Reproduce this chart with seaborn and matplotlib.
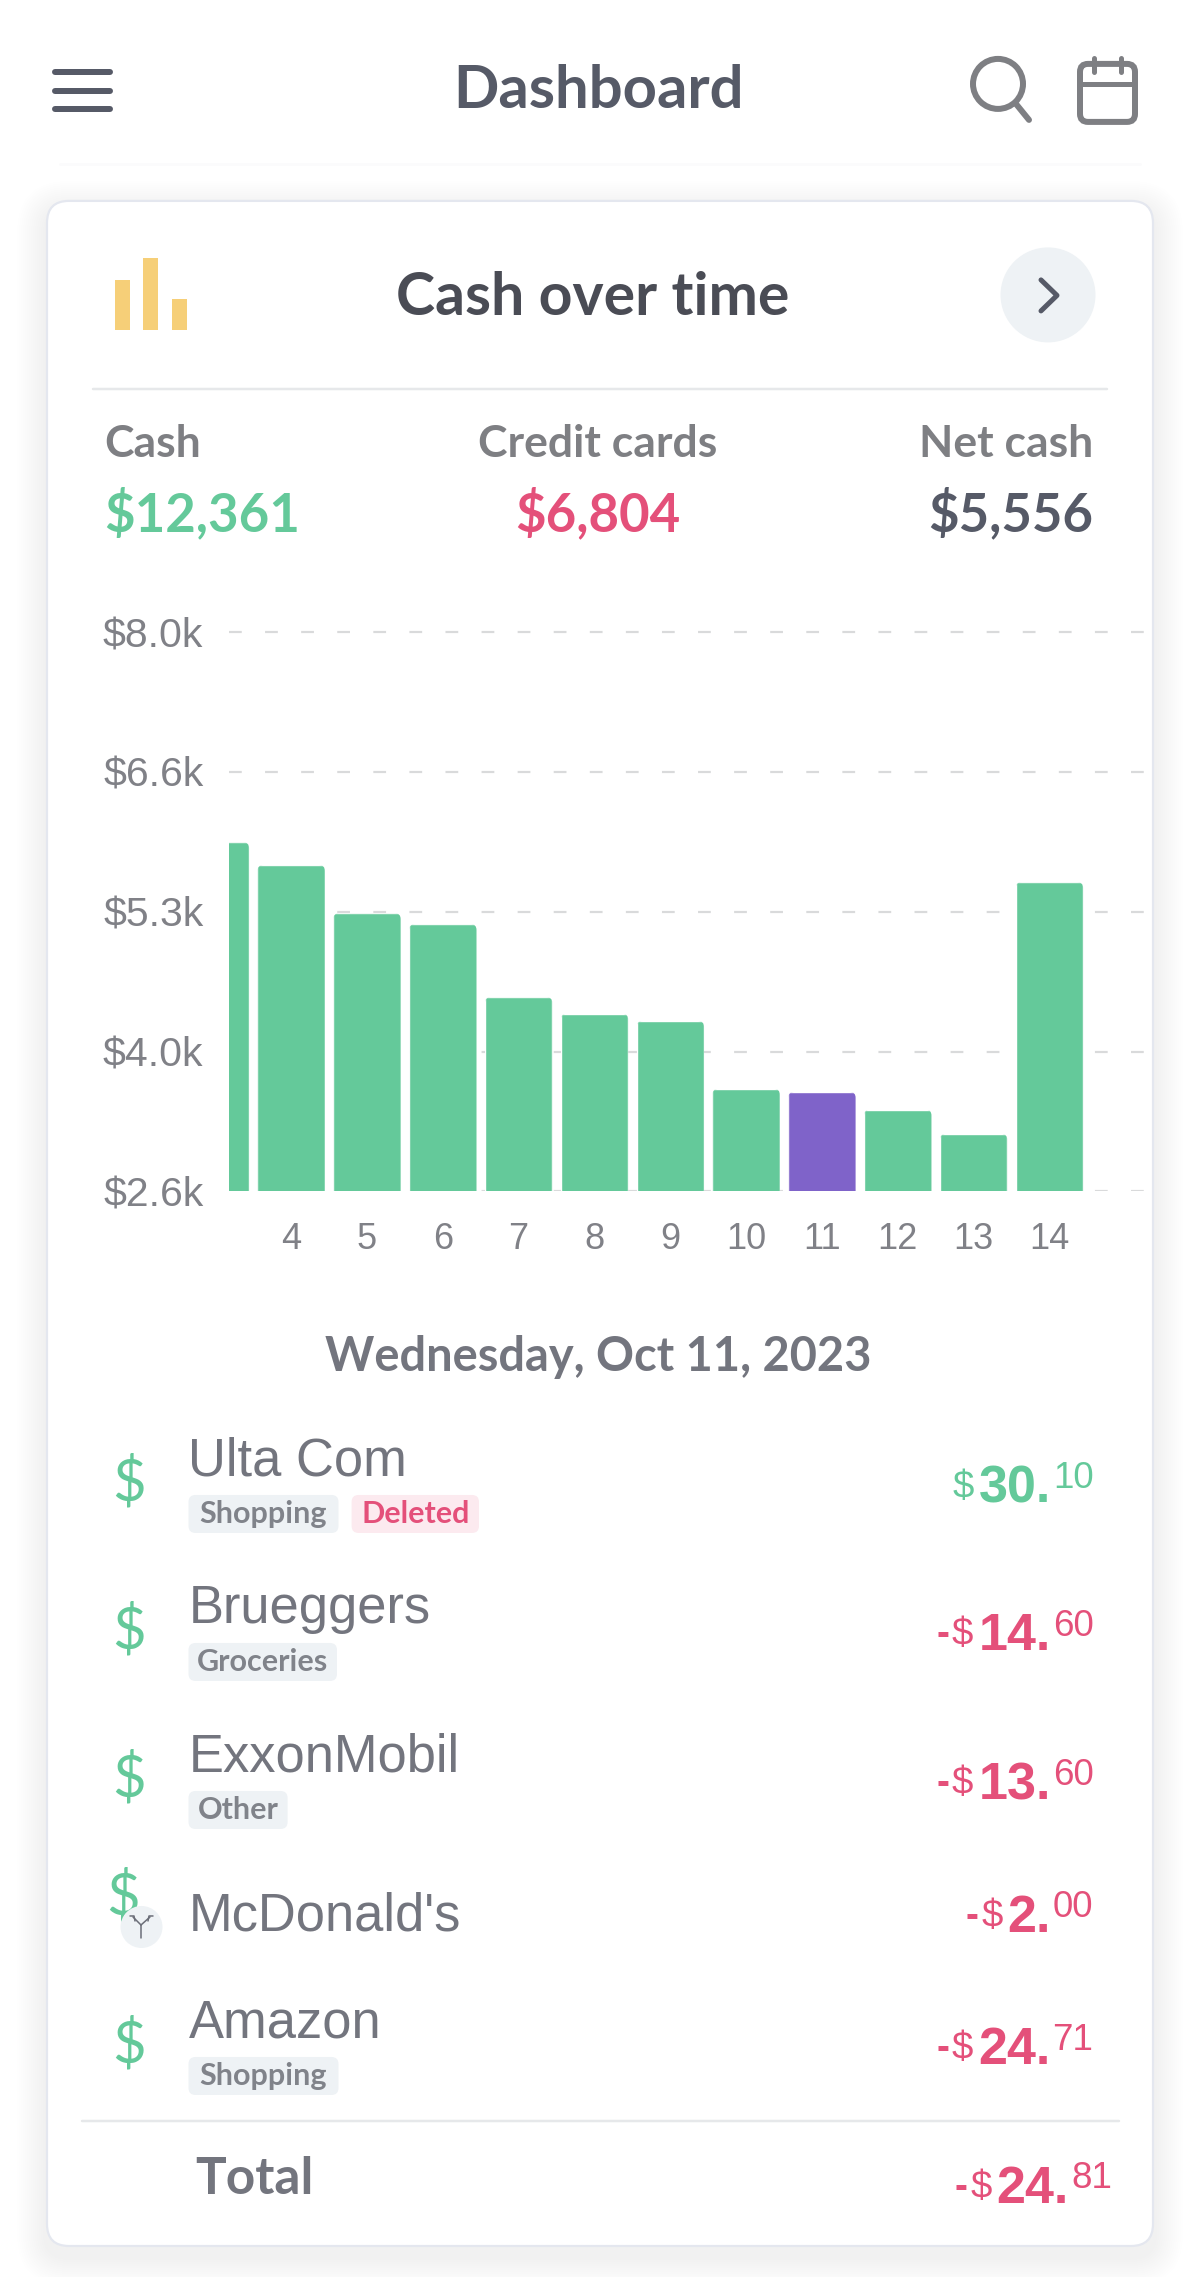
import matplotlib
matplotlib.use('Agg')
import matplotlib.pyplot as plt
import seaborn as sns
from matplotlib.patches import FancyBboxPatch, Circle, Rectangle

# Chart values (thousands of dollars)
days = ['3', '4', '5', '6', '7', '8', '9', '10', '11', '12', '13', '14']
cash_k = [5.97, 5.75, 5.285, 5.18, 4.475, 4.315, 4.245, 3.59, 3.56, 3.39, 3.155, 5.585]
selected_day = '11'
y_ticks = [2.6, 3.95, 5.3, 6.65, 8.0]
y_tick_labels = ['$2.6k', '$4.0k', '$5.3k', '$6.6k', '$8.0k']

# Summary row
summary_labels = ['Cash', 'Credit cards', 'Net cash']
summary_values = ['$12,361', '$6,804', '$5,556']

# Transactions
merchants = ['Ulta Com', 'Brueggers', 'ExxonMobil', "McDonald's", 'Amazon']
tags = [['Shopping', 'Deleted'], ['Groceries'], ['Other'], [], ['Shopping']]
amounts = [30.10, -14.60, -13.60, -2.00, -24.71]
total = -24.81

GREEN = '#64c99a'
PURPLE = '#7f63c9'
RED = '#e4507a'
DARK = '#565a67'
GREY = '#73757e'
ICON = '#7e7f83'
TICK = '#808187'
PILL = '#eef2f5'
LINE = '#e6e8ea'
HEAD = 'Lato'
BODY = 'Liberation Sans'

sns.set_theme(style='white')
fig = plt.figure(figsize=(12, 22.771), dpi=100, facecolor='white')

# Whole page in pixel coordinates
bg = fig.add_axes([0, 0, 1, 1])
bg.set_xlim(0, 1200)
bg.set_ylim(2277, 0)
bg.axis('off')


def pt(px):
    return px * 0.72


def rbox(x0, y0, x1, y1, r, **kw):
    bg.add_patch(FancyBboxPatch((x0, y0), x1 - x0, y1 - y0,
                                boxstyle=f'round,pad=0,rounding_size={r}', **kw))


def stroke(xs, ys, color, width):
    bg.plot(xs, ys, color=color, lw=pt(width), solid_capstyle='round',
            solid_joinstyle='round')


def draw_amount(value, right, base):
    color = GREEN if value >= 0 else RED
    whole, cents = f'{abs(value):.2f}'.split('.')
    r = fig.canvas.get_renderer()
    t = bg.text(right, base - 14.5, cents, ha='right', va='baseline', color=color,
                family=BODY, fontsize=26.5)
    x = t.get_window_extent(r).x0 - 2
    t = bg.text(x, base, whole + '.', ha='right', va='baseline', color=color,
                family=BODY, fontsize=37.5, weight='bold')
    x = t.get_window_extent(r).x0 - 5
    t = bg.text(x, base - 5, '$', ha='right', va='baseline', color=color,
                family=BODY, fontsize=27.5)
    if value < 0:
        x = t.get_window_extent(r).x0 - 3
        bg.text(x, base - 5, '-', ha='right', va='baseline', color=color,
                family=BODY, fontsize=28, weight='bold')


# Soft shadow, then the card
for i in range(14):
    s = 30 - i * 2
    rbox(47 - s, 201 - s + 10, 1153 + s, 2246 + s + 10, 22 + s,
         facecolor='#7c88a8', edgecolor='none', alpha=0.005)
rbox(47, 201, 1153, 2246, 22, facecolor='white', edgecolor='#e4e7ef', lw=pt(2.2))
bg.plot([60, 1140], [164, 164], color='#fbfbfc', lw=pt(3))

# Top bar
for y in [72.5, 90.7, 109]:
    stroke([55, 110], [y, y], DARK, 6)
bg.text(598, 108, 'Dashboard', ha='center', va='baseline', color=DARK,
        family=HEAD, weight='bold', fontsize=43)
bg.add_patch(Circle((998, 84), 25, facecolor='none', edgecolor=ICON, lw=pt(6)))
stroke([1016, 1029], [104, 120], ICON, 6)
rbox(1080, 64, 1135, 122, 8, facecolor='none', edgecolor=ICON, lw=pt(6))
stroke([1080, 1135], [84, 84], ICON, 5)
stroke([1094, 1094], [58, 72], ICON, 5)
stroke([1121, 1121], [58, 72], ICON, 5)

# Card header
for x0, x1, y0 in [(115, 130, 280), (143, 158, 258), (172, 187, 299)]:
    bg.add_patch(Rectangle((x0, y0), x1 - x0, 330 - y0, facecolor='#f6cf78', edgecolor='none'))
bg.text(593, 315, 'Cash over time', ha='center', va='baseline', color='#4a4c55',
        family=HEAD, weight='bold', fontsize=42.5)
bg.add_patch(Circle((1048, 295), 47.5, facecolor=PILL, edgecolor='none'))
stroke([1041, 1057, 1041], [280, 295.5, 311], DARK, 5)
bg.plot([93, 1107], [389, 389], color=LINE, lw=pt(2.5))

# Summary
bg.text(104, 457, summary_labels[0], ha='left', va='baseline', color=ICON,
        family=HEAD, weight='bold', fontsize=32)
bg.text(598, 457, summary_labels[1], ha='center', va='baseline', color=ICON,
        family=HEAD, weight='bold', fontsize=32)
bg.text(1093, 457, summary_labels[2], ha='right', va='baseline', color=ICON,
        family=HEAD, weight='bold', fontsize=32)
bg.text(104, 531, summary_values[0], ha='left', va='baseline', color=GREEN,
        family=HEAD, weight='bold', fontsize=38)
bg.text(598, 531, summary_values[1], ha='center', va='baseline', color=RED,
        family=HEAD, weight='bold', fontsize=38)
bg.text(1093, 531, summary_values[2], ha='right', va='baseline', color=DARK,
        family=HEAD, weight='bold', fontsize=38)

# Bar chart
left, right, top, bottom = 229, 1149.5, 630, 1191.5
ax = fig.add_axes([left / 1200, 1 - bottom / 2277, (right - left) / 1200, (bottom - top) / 2277])
ax.patch.set_alpha(0)
colors = {d: (PURPLE if d == selected_day else GREEN) for d in days}
sns.barplot(x=days, y=cash_k, hue=days, palette=colors, width=0.89, saturation=1,
            legend=False, ax=ax, zorder=3)
ax.set_xlim(0.18, 12.32)
ax.set_ylim(2.6, 8.0 + 2 / 103.6)
ax.set_yticks(y_ticks, y_tick_labels)
ax.set_xticks(range(1, len(days)), days[1:])
ax.yaxis.grid(True, color='#d9dadb', lw=pt(2.2), linestyle=(0, (5.8, 10.6)), zorder=0)
ax.set_axisbelow(True)
ax.tick_params(axis='y', length=0, pad=18.5, labelsize=29.5, labelcolor=TICK)
ax.tick_params(axis='x', length=0, pad=22, labelsize=26, labelcolor=TICK)
for lab in ax.get_xticklabels() + ax.get_yticklabels():
    lab.set_family(BODY)
sns.despine(ax=ax, left=True, bottom=True)

# Rounded top corners on the bars
for bar in ax.patches:
    clip = FancyBboxPatch((bar.get_x(), -1), bar.get_width(), bar.get_height() + 1,
                          boxstyle=f'round,pad=0,rounding_size={6 / 75.74}',
                          mutation_aspect=75.74 / 103.6, transform=ax.transData)
    bar.set_clip_path(clip)

# Transactions
bg.text(598, 1371, 'Wednesday, Oct 11, 2023', ha='center', va='baseline', color=GREY,
        family=HEAD, weight='bold', fontsize=33.8)

name_base = [1475.7, 1622.7, 1771.3, 1930.7, 2037.3]
icon_base = [1500, 1648, 1796.5, 1914, 2062]
icon_x = [129, 129, 129, 123, 129]
amount_base = [1502.7, 1650, 1799.3, 1931.7, 2064.3]
tag_y = [1495, 1643, 1791, None, 2057]
tag_x = [[188.5, 338.5, 351.6, 479], [188.5, 337], [188.5, 287.6], [], [188.5, 338.5]]

for i, name in enumerate(merchants):
    bg.text(icon_x[i], icon_base[i], '$', ha='center', va='baseline', color=GREEN,
            family=HEAD, fontsize=42)
    bg.text(188.5, name_base[i], name, ha='left', va='baseline', color=GREY,
            family=BODY, fontsize=37.8)
    draw_amount(amounts[i], 1093.5, amount_base[i])
    for j, tag in enumerate(tags[i]):
        x0, x1 = tag_x[i][2 * j], tag_x[i][2 * j + 1]
        y0 = tag_y[i]
        deleted = tag == 'Deleted'
        rbox(x0, y0, x1, y0 + 38, 7, facecolor='#fceaef' if deleted else PILL, edgecolor='none')
        bg.text((x0 + x1) / 2, y0 + 28, tag, ha='center', va='baseline',
                color=RED if deleted else '#80838a', family=HEAD, weight='bold', fontsize=22)

# Split badge on McDonald's
bg.add_patch(Circle((141.5, 1927), 21, facecolor=PILL, edgecolor='none', zorder=4))
for xs, ys in [([141, 141], [1938, 1925]), ([141, 133], [1925, 1917]), ([141, 150], [1925, 1917]),
               ([130, 134, 135], [1916, 1916, 1921]), ([153, 149, 148], [1916, 1916, 1921])]:
    bg.plot(xs, ys, color='#6b6e78', lw=1.1, zorder=5)

# Total row
bg.plot([82, 1119], [2121, 2121], color=LINE, lw=pt(2.5))
bg.text(195, 2194.3, 'Total', ha='left', va='baseline', color=GREY,
        family=HEAD, weight='bold', fontsize=37)
draw_amount(total, 1112, 2202.7)

fig.savefig('out.png', dpi=100, facecolor='white')
